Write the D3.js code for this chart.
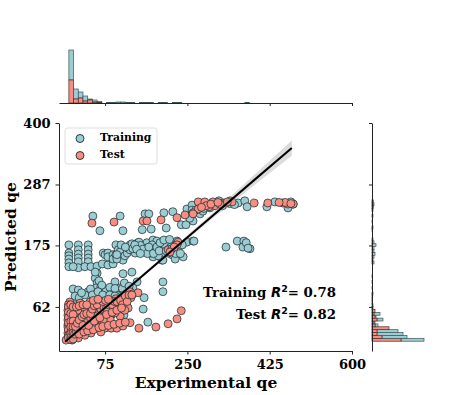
<!DOCTYPE html>
<html lang="en">
<head>
<meta charset="UTF-8">
<title>Predicted vs experimental qe</title>
<script src="https://d3js.org/d3.v7.min.js"></script>
<style>
    body { margin: 0; background: #fff; }
    svg { display: block; }
    text { font-family: "DejaVu Serif", serif; font-weight: bold; fill: #000; }
    .domain, .tick line { stroke: #222; stroke-width: 1; }
</style>
</head>
<body>
<svg id="chart" width="474" height="395"></svg>
<script>
// values
const trainX = [-2,-2,-2,-2,-2,-2,18,18,18,18,18,18,39,39,39,39,39,32,45,58,69,81,92,7,71,75,81,81,92,92,98,98,103,107,107,113,117,122,109,128,124,134,128,139,145,147,132,134,164,177,185,175,160,171,181,177,192,198,196,207,217,249,262,217,224,241,209,230,239,171,185,198,202,213,224,188,49,107,64,113,160,168,154,173,200,219,205,249,260,237,247,262,277,260,283,317,358,372,377,419,436,464,470,475,332,356,370,368,383,264,375,379,298,311,7,18,11,20,39,32,50,58,54,58,64,69,75,54,64,96,113,132,143,134,122,86,107,198,198,158,156,122,115,166,100,64,79,75,103,92,56,66,77,107,54,0,5,11,22,32,43,0,11,-4,18,54,86,5,-4,
    25,44,62,68,85,96,112,116,126,48,60,70,85,96,110,120,150,155,165,168,178,185,190,205,215,225,235,192,200,212,228,118,138,142,150,100,100,290,300,325,340,350,275,285,268,255];
const trainY = [176,161,156,150,143,136,176,167,159,152,145,134,176,167,159,152,145,136,136,137,141,139,141,136,161,158,161,154,158,150,176,158,167,163,152,148,156,161,176,176,170,170,167,161,180,181,178,169,180,185,183,176,170,163,167,154,172,161,148,181,181,181,183,158,150,154,161,167,176,161,161,148,176,170,176,156,229,229,202,202,233,233,204,205,235,237,207,242,249,213,213,220,233,240,238,257,253,257,246,246,255,244,255,251,172,183,183,172,169,183,180,170,244,251,95,93,82,79,90,84,90,124,115,106,99,90,91,80,80,108,123,126,108,97,91,90,90,108,90,79,58,62,47,34,29,22,25,80,84,93,97,99,91,97,126,56,38,66,47,34,23,20,10,5,23,47,56,1,29,
    88,95,110,102,98,96,96,106,100,84,90,84,84,82,82,82,175,168,160,172,160,172,165,165,172,160,160,180,185,186,183,172,176,168,160,150,158,250,249,248,252,250,245,243,240,225];
const testX = [47,94,156,164,194,228,245,262,273,287,273,296,304,326,341,290,309,262,345,392,421,453,464,475,332,319,209,217,230,228,222,213,0,22,43,64,88,98,113,120,128,134,145,130,103,124,86,75,64,41,22,7,-4,0,11,28,56,75,88,107,45,64,-4,3,22,35,56,75,88,100,113,128,147,183,209,228,237,11,24,0,0,7,13,45,66,117,96,54,11,32,-4,-4,-4,-8,5,18,39,54,86,111,75,32,5,18,32,71,96,
    -3,-3,-3,-3,-3,-3,-3,-3,2,2,2,2,2,2,2,2,7,7,7,7,7,7,
    10,14,18,24,28,34,38,44,50,54,60,66,72,78,82,90,95,100,108,112,118,122,126,132,
    12,16,20,26,30,36,44,48,52,58,70,76,82,14,20,28,36,50,60,
    20,30,38,50,62,70,82,94,106,118,28,40,52,64,78,90,100,110,
    280,300,315,335,458,470,445];
const testY = [216,218,220,220,222,226,231,235,255,255,242,246,255,253,257,248,248,233,255,253,253,253,251,251,253,251,167,169,181,176,172,163,71,69,71,69,71,77,79,86,90,86,88,79,66,60,62,56,53,55,42,42,38,44,51,53,42,45,47,45,34,34,25,29,23,23,23,23,23,23,27,33,23,25,31,40,55,16,16,10,3,7,10,14,16,56,60,60,34,42,56,47,14,1,60,56,34,29,38,69,67,60,20,5,10,38,51,
    66,62,52,42,33,20,10,6,66,50,35,25,15,12,6,2,62,48,36,25,14,3,
    12,16,20,24,30,33,38,42,44,50,46,58,62,60,66,66,72,72,74,66,82,72,84,84,
    26,32,38,44,48,50,50,58,64,66,72,74,76,62,64,66,66,74,76,
    12,16,18,20,24,26,28,30,32,34,28,28,36,42,48,52,56,60,
    245,251,254,255,254,252,254];

// regression line and its band
const fitX = [-10,100,200,300,400,472];
const fitY = [-2,79,153,227,301,354];
const fitLow = [-8,76,150,222,291,340];
const fitHigh = [4,82,156,232,311,368];

// marginal histograms, counts per bin
const topBinStart = [-2,8,18,28,38,48,58,78,88,98,108,118,128,148,158,168,188,198,218,228,372];
const topTrain = [60,20,12,10,2,4,2,1,1,2,2,1,1,1,1,1,1,1,1,1,1];
const topTest = [46,8,10,4,6,2,1,0,0,0,0,0,0,0,0,0,0,0,0,0,0];

const rightBinStart = [-1,4.3,9.6,14.9,20.2,25.5,30.8,36.1,41.4,46.7,52,57.3,62.6,67.9,73.2,78.5,83.8,94.4,105,115.6,141,146.3,151.6,156.9,162.2,167.5,172.8,178.1,183.4,200.4,205.7,216.3,226.9,237.5,242.8,248.1,253.4];
const rightTrain = [46,50,52,42,0,6,2,12,2,12,0,0,1,1,0,1,1,1,1,1,4,2,4,6,4,4,8,4,2,1,1,1,1,1,2,2,2];
const rightTest = [58,20,10,10,34,6,4,10,6,4,6,2,1,0,1,0,1,0,0,0,0,0,0,0,0,0,0,0,0,0,1,0,1,1,1,2,1];

const xTicks = [75,250,425,600];
const yTicks = [62,175,287,400];
const legendLabels = ['Training','Test'];

const trainColor = '#9ccdd3', testColor = '#fa8d81', edge = '#17292c';

const svg = d3.select('#chart');
const plotLeft = 59, plotRight = 352, plotTop = 123, plotBottom = 351;

const x = d3.scaleLinear().domain([-23, 600]).range([plotLeft, plotRight]);
const y = d3.scaleLinear().domain([-19, 400]).range([plotBottom, plotTop]);

const main = svg.append('g');

main.selectAll('.train')
    .data(d3.zip(trainX, trainY))
    .enter().append('circle')
    .attr('class', 'train')
    .attr('cx', d => x(d[0]))
    .attr('cy', d => y(d[1]))
    .attr('r', 4)
    .attr('fill', trainColor)
    .attr('stroke', edge)
    .attr('stroke-opacity', 0.8)
    .attr('stroke-width', 0.9);

main.selectAll('.test')
    .data(d3.zip(testX, testY))
    .enter().append('circle')
    .attr('class', 'test')
    .attr('cx', d => x(d[0]))
    .attr('cy', d => y(d[1]))
    .attr('r', 4)
    .attr('fill', testColor)
    .attr('stroke', edge)
    .attr('stroke-opacity', 0.8)
    .attr('stroke-width', 0.9);

// regression band and line sit over the points
const band = d3.area()
    .x(d => x(d[0]))
    .y0(d => y(d[1]))
    .y1(d => y(d[2]));
main.append('path')
    .datum(d3.zip(fitX, fitLow, fitHigh))
    .attr('d', band)
    .attr('fill', '#999')
    .attr('fill-opacity', 0.35);

const line = d3.line().x(d => x(d[0])).y(d => y(d[1]));
main.append('path')
    .datum(d3.zip(fitX, fitY))
    .attr('d', line)
    .attr('fill', 'none')
    .attr('stroke', '#000')
    .attr('stroke-width', 2);

// axes
const xAxis = svg.append('g')
    .attr('transform', `translate(0,${plotBottom})`)
    .call(d3.axisBottom(x).tickValues(xTicks).tickSizeOuter(0).tickSizeInner(3.5).tickPadding(5));
xAxis.selectAll('text').style('font-size', '13px');

const yAxis = svg.append('g')
    .attr('transform', `translate(${plotLeft},0)`)
    .call(d3.axisLeft(y).tickValues(yTicks).tickSizeOuter(0).tickSizeInner(3.5).tickPadding(5));
yAxis.selectAll('text').style('font-size', '13px');

svg.append('text')
    .attr('x', 206).attr('y', 388)
    .attr('text-anchor', 'middle')
    .style('font-size', '15.5px')
    .text('Experimental qe');

svg.append('text')
    .attr('transform', 'translate(16,237) rotate(-90)')
    .attr('text-anchor', 'middle')
    .style('font-size', '15.5px')
    .text('Predicted qe');

// R2 notes
const notes = [['Training ', '0.78', 297], ['Test ', '0.82', 319]];
notes.forEach(n => {
    const t = svg.append('text')
        .attr('x', 336).attr('y', n[2])
        .attr('text-anchor', 'end')
        .style('font-size', '13.3px');
    t.append('tspan').text(n[0]);
    t.append('tspan').style('font-family', '"DejaVu Sans"').style('font-style', 'italic').text('R');
    t.append('tspan').style('font-family', '"DejaVu Sans"').style('font-size', '9.5px').attr('dy', -5).text('2');
    t.append('tspan').attr('dy', 5).text('= ' + n[1]);
});

// legend
const legend = svg.append('g');
legend.append('rect')
    .attr('x', 65).attr('y', 128).attr('width', 92).attr('height', 36).attr('rx', 2.5)
    .attr('fill', '#fff').attr('fill-opacity', 0.8)
    .attr('stroke', '#d5d5d5').attr('stroke-width', 0.8);
legendLabels.forEach((label, i) => {
    legend.append('circle')
        .attr('cx', 80).attr('cy', 138.5 + i * 17).attr('r', 4)
        .attr('fill', i ? testColor : trainColor)
        .attr('stroke', edge).attr('stroke-width', 0.9);
    legend.append('text')
        .attr('x', 100).attr('y', 141 + i * 16.5)
        .style('font-size', '10.8px')
        .text(label);
});

// top histogram
const topY = d3.scaleLinear().domain([0, 106]).range([103, 50]);
const topW = x(10) - x(0);
const topHist = svg.append('g');
topBinStart.forEach((b, i) => {
    const total = topTrain[i] + topTest[i];
    topHist.append('rect')
        .attr('x', x(b)).attr('width', topW)
        .attr('y', topY(total)).attr('height', topY(topTest[i]) - topY(total))
        .attr('fill', trainColor).attr('stroke', '#3d5458').attr('stroke-width', 0.7);
    if (topTest[i] > 0) {
        topHist.append('rect')
            .attr('x', x(b)).attr('width', topW)
            .attr('y', topY(topTest[i])).attr('height', 103 - topY(topTest[i]))
            .attr('fill', testColor).attr('stroke', '#4a2c2a').attr('stroke-width', 0.7);
    }
});
svg.append('g')
    .attr('transform', 'translate(0,103)')
    .call(d3.axisBottom(x).tickValues(xTicks).tickSizeOuter(0).tickSizeInner(3).tickFormat(''));

// right histogram
const rightX = d3.scaleLinear().domain([0, 106]).range([372, 425]);
const rightH = y(0) - y(5.3);
const rightHist = svg.append('g');
rightBinStart.forEach((b, i) => {
    const total = rightTrain[i] + rightTest[i];
    const yTop = y(b + 5.3);
    rightHist.append('rect')
        .attr('x', rightX(rightTest[i])).attr('width', rightX(total) - rightX(rightTest[i]))
        .attr('y', yTop).attr('height', rightH)
        .attr('fill', trainColor).attr('stroke', '#3d5458').attr('stroke-width', 0.7);
    if (rightTest[i] > 0) {
        rightHist.append('rect')
            .attr('x', 372).attr('width', rightX(rightTest[i]) - 372)
            .attr('y', yTop).attr('height', rightH)
            .attr('fill', testColor).attr('stroke', '#4a2c2a').attr('stroke-width', 0.7);
    }
});
svg.append('g')
    .attr('transform', 'translate(372,0)')
    .call(d3.axisLeft(y).tickValues(yTicks).tickSizeOuter(0).tickSizeInner(3).tickFormat(''));
</script>
</body>
</html>
